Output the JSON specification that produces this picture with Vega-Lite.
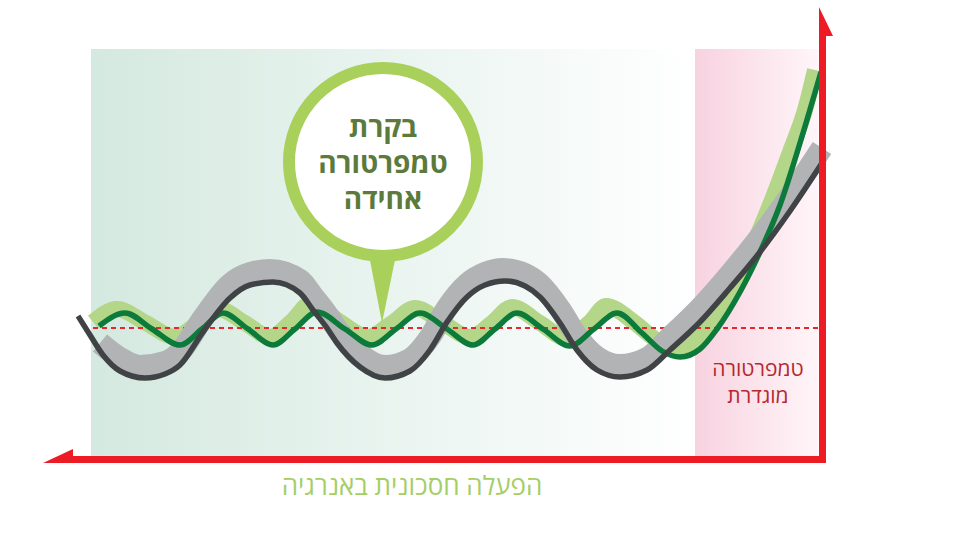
{
  "$schema": "https://vega.github.io/schema/vega-lite/v6.json",
  "description": "Uniform temperature control vs. defined temperature, energy-saving operation.",
  "width": 960,
  "height": 541,
  "autosize": {"type": "fit", "contains": "padding"},
  "padding": 0,
  "background": "white",
  "config": {
    "view": {"stroke": null},
    "axis": {"disable": true},
    "legend": {"disable": true}
  },
  "datasets": {
    "zones": [
      {"zone": "saving", "x": 91, "x2": 695, "y": 49, "y2": 456},
      {"zone": "defined", "x": 695, "x2": 819, "y": 49, "y2": 456}
    ],
    "bars": [
      {"x": 73, "x2": 826, "y": 456, "y2": 463},
      {"x": 819, "x2": 826, "y": 36, "y2": 463}
    ],
    "heads": [
      {"g": "up", "x": 819, "y": 7, "y2": 36},
      {"g": "up", "x": 833, "y": 36, "y2": 36},
      {"g": "left", "x": 43, "y": 463, "y2": 463},
      {"g": "left", "x": 73, "y": 449, "y2": 463}
    ],
    "pointer": [
      {"x": 369, "y": 255, "y2": 255},
      {"x": 382, "y": 255, "y2": 323},
      {"x": 396, "y": 255, "y2": 255}
    ],
    "bubble": [{"x": 383, "y": 162}],
    "target": [{"x": 93, "x2": 819, "y": 328}],
    "curves": [
      {"s": "light", "x": 93, "y": 322}, {"s": "light", "x": 117, "y": 309}, {"s": "light", "x": 146, "y": 323},
      {"s": "light", "x": 175, "y": 337}, {"s": "light", "x": 198, "y": 323}, {"s": "light", "x": 218, "y": 309},
      {"s": "light", "x": 245, "y": 323}, {"s": "light", "x": 270, "y": 337}, {"s": "light", "x": 292, "y": 321},
      {"s": "light", "x": 311, "y": 303}, {"s": "light", "x": 340, "y": 322}, {"s": "light", "x": 368, "y": 337},
      {"s": "light", "x": 392, "y": 323}, {"s": "light", "x": 415, "y": 308}, {"s": "light", "x": 443, "y": 323},
      {"s": "light", "x": 470, "y": 337}, {"s": "light", "x": 492, "y": 323}, {"s": "light", "x": 512, "y": 307},
      {"s": "light", "x": 540, "y": 323}, {"s": "light", "x": 566, "y": 338}, {"s": "light", "x": 590, "y": 322},
      {"s": "light", "x": 606, "y": 306}, {"s": "light", "x": 635, "y": 323}, {"s": "light", "x": 655, "y": 339},
      {"s": "light", "x": 675, "y": 348}, {"s": "light", "x": 695, "y": 340}, {"s": "light", "x": 712, "y": 322},
      {"s": "light", "x": 730, "y": 290}, {"s": "light", "x": 750, "y": 252}, {"s": "light", "x": 770, "y": 205},
      {"s": "light", "x": 790, "y": 152}, {"s": "light", "x": 805, "y": 110}, {"s": "light", "x": 815, "y": 70},

      {"s": "gray", "x": 100, "y": 343}, {"s": "gray", "x": 120, "y": 358}, {"s": "gray", "x": 140, "y": 366},
      {"s": "gray", "x": 165, "y": 362}, {"s": "gray", "x": 180, "y": 352}, {"s": "gray", "x": 203, "y": 318},
      {"s": "gray", "x": 230, "y": 284}, {"s": "gray", "x": 250, "y": 273}, {"s": "gray", "x": 270, "y": 270},
      {"s": "gray", "x": 300, "y": 280}, {"s": "gray", "x": 313, "y": 296}, {"s": "gray", "x": 327, "y": 314},
      {"s": "gray", "x": 337, "y": 329}, {"s": "gray", "x": 360, "y": 354}, {"s": "gray", "x": 385, "y": 366},
      {"s": "gray", "x": 410, "y": 359}, {"s": "gray", "x": 430, "y": 337}, {"s": "gray", "x": 447, "y": 308},
      {"s": "gray", "x": 467, "y": 284}, {"s": "gray", "x": 485, "y": 273}, {"s": "gray", "x": 503, "y": 269},
      {"s": "gray", "x": 525, "y": 274}, {"s": "gray", "x": 540, "y": 284}, {"s": "gray", "x": 560, "y": 309},
      {"s": "gray", "x": 577, "y": 336}, {"s": "gray", "x": 597, "y": 357}, {"s": "gray", "x": 620, "y": 365},
      {"s": "gray", "x": 647, "y": 358}, {"s": "gray", "x": 670, "y": 337}, {"s": "gray", "x": 700, "y": 308},
      {"s": "gray", "x": 730, "y": 274}, {"s": "gray", "x": 760, "y": 237}, {"s": "gray", "x": 790, "y": 196},
      {"s": "gray", "x": 822, "y": 148},

      {"s": "green", "x": 99, "y": 326}, {"s": "green", "x": 125, "y": 313}, {"s": "green", "x": 152, "y": 329},
      {"s": "green", "x": 180, "y": 345}, {"s": "green", "x": 202, "y": 329}, {"s": "green", "x": 223, "y": 313},
      {"s": "green", "x": 248, "y": 329}, {"s": "green", "x": 273, "y": 345}, {"s": "green", "x": 295, "y": 329},
      {"s": "green", "x": 317, "y": 312}, {"s": "green", "x": 345, "y": 329}, {"s": "green", "x": 372, "y": 345},
      {"s": "green", "x": 396, "y": 329}, {"s": "green", "x": 420, "y": 313}, {"s": "green", "x": 447, "y": 329},
      {"s": "green", "x": 473, "y": 345}, {"s": "green", "x": 495, "y": 329}, {"s": "green", "x": 517, "y": 313},
      {"s": "green", "x": 543, "y": 329}, {"s": "green", "x": 570, "y": 346}, {"s": "green", "x": 594, "y": 329},
      {"s": "green", "x": 617, "y": 313}, {"s": "green", "x": 642, "y": 333}, {"s": "green", "x": 662, "y": 351},
      {"s": "green", "x": 680, "y": 357}, {"s": "green", "x": 700, "y": 349}, {"s": "green", "x": 717, "y": 329},
      {"s": "green", "x": 740, "y": 292}, {"s": "green", "x": 760, "y": 252}, {"s": "green", "x": 780, "y": 205},
      {"s": "green", "x": 800, "y": 143}, {"s": "green", "x": 821, "y": 72},

      {"s": "dark", "x": 78, "y": 316}, {"s": "dark", "x": 90, "y": 335}, {"s": "dark", "x": 103, "y": 355},
      {"s": "dark", "x": 120, "y": 371}, {"s": "dark", "x": 145, "y": 378}, {"s": "dark", "x": 165, "y": 374},
      {"s": "dark", "x": 180, "y": 365}, {"s": "dark", "x": 203, "y": 332}, {"s": "dark", "x": 230, "y": 298},
      {"s": "dark", "x": 250, "y": 285}, {"s": "dark", "x": 273, "y": 282}, {"s": "dark", "x": 300, "y": 293},
      {"s": "dark", "x": 313, "y": 310}, {"s": "dark", "x": 327, "y": 328}, {"s": "dark", "x": 337, "y": 343},
      {"s": "dark", "x": 360, "y": 367}, {"s": "dark", "x": 385, "y": 378}, {"s": "dark", "x": 410, "y": 371},
      {"s": "dark", "x": 430, "y": 350}, {"s": "dark", "x": 447, "y": 322}, {"s": "dark", "x": 467, "y": 297},
      {"s": "dark", "x": 485, "y": 285}, {"s": "dark", "x": 505, "y": 281}, {"s": "dark", "x": 525, "y": 286},
      {"s": "dark", "x": 540, "y": 297}, {"s": "dark", "x": 560, "y": 323}, {"s": "dark", "x": 577, "y": 350},
      {"s": "dark", "x": 597, "y": 370}, {"s": "dark", "x": 620, "y": 377}, {"s": "dark", "x": 647, "y": 370},
      {"s": "dark", "x": 670, "y": 350}, {"s": "dark", "x": 700, "y": 322}, {"s": "dark", "x": 730, "y": 288},
      {"s": "dark", "x": 760, "y": 252}, {"s": "dark", "x": 790, "y": 211}, {"s": "dark", "x": 822, "y": 163}
    ],
    "labels": [
      {"k": "bubble", "x": 383, "y": 129, "t": "בקרת\nטמפרטורה\nאחידה"},
      {"k": "axis", "x": 412, "y": 487, "t": "הפעלה חסכונית באנרגיה"},
      {"k": "red", "x": 758, "y": 370, "t": "טמפרטורה\nמוגדרת"}
    ]
  },
  "encoding": {
    "x": {"field": "x", "type": "quantitative", "scale": {"domain": [0, 960], "nice": false, "zero": false}},
    "y": {"field": "y", "type": "quantitative", "scale": {"domain": [0, 541], "reverse": true, "nice": false, "zero": false}}
  },
  "layer": [
    {
      "data": {"name": "zones"},
      "transform": [{"filter": "datum.zone == 'saving'"}],
      "mark": {
        "type": "rect",
        "color": {
          "gradient": "linear", "x1": 0, "y1": 0, "x2": 1, "y2": 0,
          "stops": [{"offset": 0, "color": "#d4e9e0"}, {"offset": 1, "color": "#ffffff"}]
        }
      },
      "encoding": {"x2": {"field": "x2"}, "y2": {"field": "y2"}}
    },
    {
      "data": {"name": "zones"},
      "transform": [{"filter": "datum.zone == 'defined'"}],
      "mark": {
        "type": "rect",
        "color": {
          "gradient": "linear", "x1": 0, "y1": 0, "x2": 1, "y2": 0,
          "stops": [{"offset": 0, "color": "#f8d2e0"}, {"offset": 1, "color": "#fff6f9"}]
        }
      },
      "encoding": {"x2": {"field": "x2"}, "y2": {"field": "y2"}}
    },
    {
      "data": {"name": "curves"},
      "transform": [{"filter": "datum.s == 'light'"}],
      "mark": {"type": "line", "interpolate": "monotone", "color": "#b3d689", "strokeWidth": 16},
      "encoding": {}
    },
    {
      "data": {"name": "target"},
      "mark": {"type": "rule", "color": "#e8262b", "strokeWidth": 2, "strokeDash": [5, 4]},
      "encoding": {"x2": {"field": "x2"}}
    },
    {
      "data": {"name": "curves"},
      "transform": [{"filter": "datum.s == 'gray'"}],
      "mark": {"type": "line", "interpolate": "monotone", "color": "#b1b3b4", "strokeWidth": 22},
      "encoding": {}
    },
    {
      "data": {"name": "curves"},
      "transform": [{"filter": "datum.s == 'green'"}],
      "mark": {"type": "line", "interpolate": "monotone", "color": "#0c7a3a", "strokeWidth": 5.5},
      "encoding": {}
    },
    {
      "data": {"name": "curves"},
      "transform": [{"filter": "datum.s == 'dark'"}],
      "mark": {"type": "line", "interpolate": "monotone", "color": "#404345", "strokeWidth": 5.5},
      "encoding": {}
    },
    {
      "data": {"name": "bars"},
      "mark": {"type": "rect", "color": "#ed1c24"},
      "encoding": {"x2": {"field": "x2"}, "y2": {"field": "y2"}}
    },
    {
      "data": {"name": "heads"},
      "mark": {"type": "area", "color": "#ed1c24", "opacity": 1},
      "encoding": {"y2": {"field": "y2"}, "detail": {"field": "g"}}
    },
    {
      "data": {"name": "pointer"},
      "mark": {"type": "area", "color": "#a9d05b", "opacity": 1},
      "encoding": {"y2": {"field": "y2"}}
    },
    {
      "data": {"name": "bubble"},
      "mark": {
        "type": "point", "shape": "circle", "filled": true, "fill": "#ffffff",
        "stroke": "#a9d05b", "strokeWidth": 12, "size": 35344, "opacity": 1, "fillOpacity": 1, "strokeOpacity": 1
      },
      "encoding": {}
    },
    {
      "data": {"name": "labels"},
      "transform": [{"filter": "datum.k == 'bubble'"}],
      "mark": {"type": "text", "font": "Open Sans, Liberation Sans", "fontWeight": "bold", "fontSize": 28, "lineHeight": 36, "lineBreak": "\n", "color": "#5c7a3b", "align": "center", "baseline": "middle"},
      "encoding": {"text": {"field": "t"}}
    },
    {
      "data": {"name": "labels"},
      "transform": [{"filter": "datum.k == 'axis'"}],
      "mark": {"type": "text", "font": "Open Sans, Liberation Sans", "fontSize": 26, "color": "#a5ce66", "align": "center", "baseline": "middle"},
      "encoding": {"text": {"field": "t"}}
    },
    {
      "data": {"name": "labels"},
      "transform": [{"filter": "datum.k == 'red'"}],
      "mark": {"type": "text", "font": "Open Sans, Liberation Sans", "fontSize": 21, "lineHeight": 27, "lineBreak": "\n", "color": "#b5282e", "align": "center", "baseline": "middle"},
      "encoding": {"text": {"field": "t"}}
    }
  ]
}
